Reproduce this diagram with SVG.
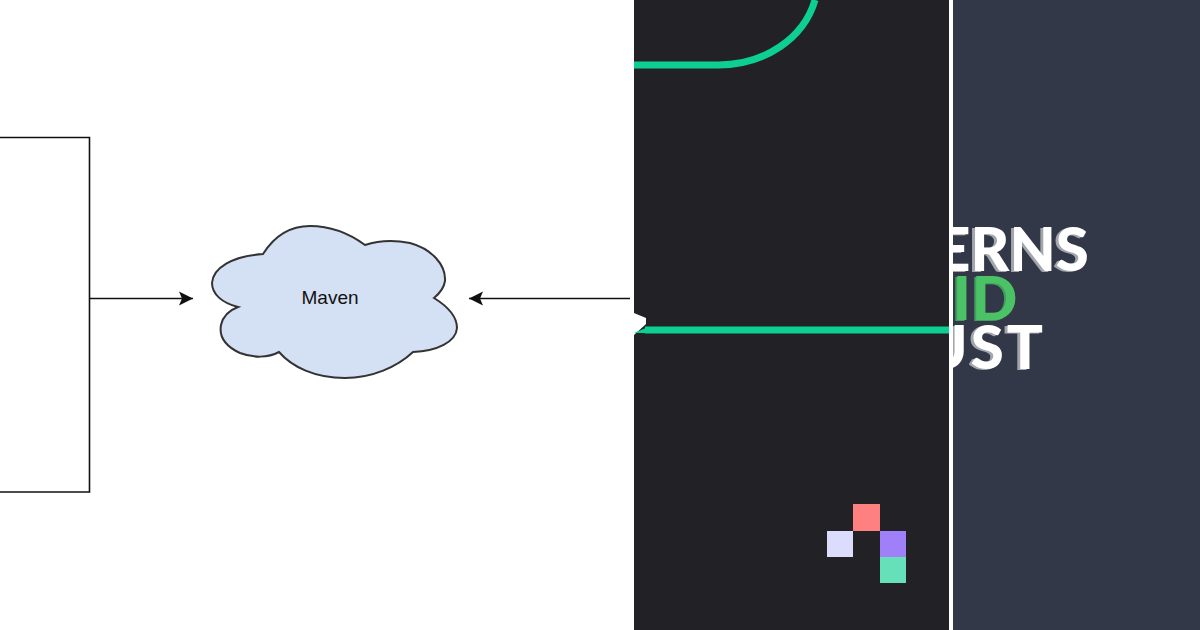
<svg xmlns="http://www.w3.org/2000/svg" width="1200" height="630" viewBox="0 0 1200 630">
<style>
.ln{fill:none;stroke:#111;stroke-width:1.6}
.gr{fill:none;stroke:#0dcf90;stroke-width:7}
.hd{font-family:"Lato","Liberation Sans",sans-serif;font-weight:900;font-size:60px}
.w{fill:#fff;filter:url(#sh)}.g{fill:#4bc266;filter:url(#shg)}
</style>
<defs>
<marker id="ah" markerUnits="userSpaceOnUse" markerWidth="15" markerHeight="16" refX="14" refY="8" orient="auto"><path d="M0 1L14 8L0 15L3 8Z" fill="#111"/></marker>
<clipPath id="panel"><rect x="953" y="0" width="247" height="630"/></clipPath>
<filter id="sh" x="-10%" y="-10%" width="120%" height="120%"><feFlood flood-color="#a3a6ad"/><feComposite in2="SourceAlpha" operator="in"/><feOffset dx="-3" dy="1" result="o"/><feMerge><feMergeNode in="o"/><feMergeNode in="SourceGraphic"/></feMerge></filter>
<filter id="shg" x="-10%" y="-10%" width="120%" height="120%"><feFlood flood-color="#3f9f5c"/><feComposite in2="SourceAlpha" operator="in"/><feOffset dx="-2" dy="1" result="o"/><feMerge><feMergeNode in="o"/><feMergeNode in="SourceGraphic"/></feMerge></filter>
</defs>
<rect width="1200" height="630" fill="#fff"/>
<g id="box"><path class="ln" d="M0 137.500H89.500V492H0"/></g>
<g id="cloud">
<path d="M263 254C275 235 290 226 310 226C333 226 350 234 365 245C380 240 395 240 410 243C432 249 446 265 445 281C444 288 440 293 434 298C447 306 457 316 457 328C456 342 437 351 413 352C397 367 372 378 345 378C315 378 292 367 279 352C268 358 253 358 240 353C225 346 219 336 221 325C223 316 230 310 238 307C222 303 212 294 212 283C213 268 232 256 263 254Z" fill="#d4e0f4" stroke="#333" stroke-width="2"/>
<text x="330" y="304" text-anchor="middle" font-family="Liberation Sans,Arial,sans-serif" font-size="19" fill="#111">Maven</text>
</g>
<g id="connectors">
<path class="ln" d="M90 298.500H193" marker-end="url(#ah)"/>
<path class="ln" d="M630 298.500H469" marker-end="url(#ah)"/>
</g>
<g id="dark-panel">
<rect x="634" y="0" width="315" height="630" fill="#222226"/>
<path class="gr" d="M634 65H718C765 65 804 38 815 0"/>
<path d="M634 313L646 318V324L634 335Z" fill="#fff"/>
<path class="gr" d="M645 330H949"/>
<path d="M634 333L648 327V333Z" fill="#0dcf90"/>
<rect x="853" y="504" width="27" height="27" fill="#fe8080"/>
<rect x="827" y="531" width="26" height="26" fill="#dcdcfc"/>
<rect x="880" y="531" width="26" height="26" fill="#a080f8"/>
<rect x="880" y="557" width="26" height="26" fill="#66e0b8"/>
</g>
<rect x="949" y="0" width="4" height="630" fill="#fff"/>
<rect x="953" y="0" width="247" height="630" fill="#323848"/>
<g id="headline" clip-path="url(#panel)" class="hd">
<text class="w" x="936" y="271">ERNS</text>
<text class="g" x="906" y="320" letter-spacing="1">DID</text>
<text class="w" x="923" y="369" letter-spacing="3">UST</text>
</g>
</svg>
